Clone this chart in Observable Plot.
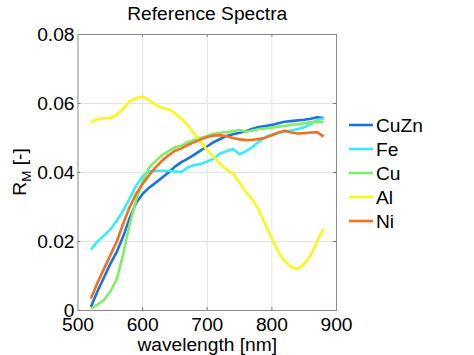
<!DOCTYPE html>
<html>
<head>
<meta charset="utf-8">
<script src="https://cdn.jsdelivr.net/npm/d3@7"></script>
<script src="https://cdn.jsdelivr.net/npm/@observablehq/plot@0.6"></script>
<style>
  html, body { margin: 0; padding: 0; background: #fff; }
  #chart { position: relative; width: 474px; height: 355px; }
</style>
</head>
<body>
<div id="chart"></div>
<script>
const wavelengths = [520,530,540,550,560,570,580,590,600,610,620,630,640,650,660,670,680,690,700,710,720,730,740,750,760,770,780,790,800,810,820,830,840,850,860,870,880];

const seriesNames = ["CuZn", "Fe", "Cu", "Al", "Ni"];
const seriesColors = ["#1a72e0", "#33eefa", "#80ec6a", "#f8f818", "#ee7020"];

const CuZn = [0.0010,0.0055,0.0095,0.0135,0.0170,0.0215,0.0268,0.0312,0.0338,0.0356,0.0370,0.0385,0.0400,0.0417,0.0430,0.0440,0.0452,0.0464,0.0476,0.0488,0.0497,0.0506,0.0511,0.0515,0.0520,0.0527,0.0532,0.0535,0.0538,0.0543,0.0547,0.0549,0.0551,0.0553,0.0556,0.0560,0.0558];
const Fe   = [0.0176,0.0200,0.0217,0.0235,0.0260,0.0290,0.0325,0.0362,0.0390,0.0403,0.0405,0.0405,0.0405,0.0403,0.0402,0.0415,0.0422,0.0425,0.0432,0.0440,0.0455,0.0462,0.0468,0.0453,0.0462,0.0474,0.0490,0.0502,0.0510,0.0514,0.0518,0.0522,0.0526,0.0531,0.0540,0.0552,0.0557];
const Cu   = [0.0005,0.0017,0.0030,0.0055,0.0090,0.0165,0.0250,0.0320,0.0375,0.0415,0.0433,0.0450,0.0462,0.0473,0.0478,0.0488,0.0494,0.0500,0.0506,0.0512,0.0515,0.0517,0.0520,0.0523,0.0518,0.0522,0.0526,0.0528,0.0530,0.0533,0.0535,0.0538,0.0540,0.0543,0.0546,0.0547,0.0546];
const Al   = [0.0545,0.0555,0.0557,0.0558,0.0568,0.0585,0.0607,0.0616,0.0620,0.0610,0.0597,0.0587,0.0584,0.0572,0.0556,0.0537,0.0512,0.0488,0.0465,0.0445,0.0425,0.0408,0.0398,0.0370,0.0343,0.0322,0.0290,0.0250,0.0208,0.0170,0.0143,0.0127,0.0120,0.0135,0.0160,0.0200,0.0237];
const Ni   = [0.0035,0.0080,0.0120,0.0160,0.0200,0.0252,0.0300,0.0338,0.0367,0.0392,0.0415,0.0434,0.0450,0.0463,0.0470,0.0480,0.0488,0.0496,0.0503,0.0507,0.0508,0.0505,0.0500,0.0496,0.0494,0.0495,0.0497,0.0501,0.0508,0.0516,0.0521,0.0516,0.0513,0.0514,0.0516,0.0517,0.0504];

const xTicks = [500,600,700,800,900];
const yTicks = [0,0.02,0.04,0.06,0.08];
const yTickLabels = ["0","0.02","0.04","0.06","0.08"];

const seriesValues = [CuZn, Fe, Cu, Al, Ni];
const rows = [];
seriesNames.forEach((name, i) => {
  wavelengths.forEach((w, j) => rows.push({series: name, wavelength: w, value: seriesValues[i][j]}));
});

const FONT = "'Liberation Sans', Arial, Helvetica, sans-serif";
const FS = 19.2;

const plot = Plot.plot({
  width: 474,
  height: 355,
  marginLeft: 77.5,
  marginRight: 138,
  marginTop: 34,
  marginBottom: 45,
  style: {fontFamily: FONT, fontSize: FS + "px", background: "#fff", color: "#000"},
  x: {domain: [500, 900], label: null},
  y: {domain: [0, 0.08], label: null},
  color: {domain: seriesNames, range: seriesColors},
  marks: [
    Plot.gridX(xTicks.slice(1, -1), {stroke: "#e4e4e4", strokeOpacity: 1, strokeWidth: 1}),
    Plot.gridY(yTicks.slice(1, -1), {stroke: "#e4e4e4", strokeOpacity: 1, strokeWidth: 1}),
    Plot.axisX(xTicks, {tickSize: 0, tickPadding: 6.5, fontSize: FS, tickFormat: d => String(d), label: null}),
    Plot.axisY(yTicks, {tickSize: 0, tickPadding: 3.5, fontSize: FS, tickFormat: (d, i) => yTickLabels[i], label: null}),
    // inward tick marks (MATLAB-style, all four sides)
    Plot.ruleX(xTicks.slice(1, -1), {y1: 0, y2: 0.0008, stroke: "#777"}),
    Plot.ruleX(xTicks.slice(1, -1), {y1: 0.08, y2: 0.0792, stroke: "#777"}),
    Plot.ruleY(yTicks.slice(1, -1), {x1: 500, x2: 504.5, stroke: "#777"}),
    Plot.ruleY(yTicks.slice(1, -1), {x1: 900, x2: 895.5, stroke: "#777"}),
    Plot.frame({stroke: "#8a8a8a", strokeWidth: 1}),
    Plot.line(rows, {x: "wavelength", y: "value", z: "series", stroke: "series", strokeWidth: 2.6, strokeLinejoin: "round", strokeLinecap: "butt"}),
    Plot.text(["Reference Spectra"], {frameAnchor: "top", dy: -15, lineAnchor: "bottom", fontSize: FS, fill: "#000"}),
    Plot.text(["wavelength [nm]"], {frameAnchor: "bottom", dy: 40.5, lineAnchor: "bottom", fontSize: FS, fill: "#000"})
  ]
});

const svg = d3.select(plot);

// y-axis label: R_M [-]
const yl = svg.append("text")
  .attr("transform", "translate(26,172) rotate(-90)")
  .attr("text-anchor", "middle")
  .attr("font-family", FONT)
  .attr("font-size", FS)
  .attr("fill", "#000");
yl.append("tspan").text("R");
yl.append("tspan").attr("font-size", FS * 0.7).attr("dy", 5).text("M");
yl.append("tspan").attr("dy", -5).text(" [-]");

// legend
const lg = svg.append("g").attr("font-family", FONT).attr("font-size", FS).attr("text-anchor", "start");
seriesNames.forEach((name, i) => {
  const y = 125 + i * 24;
  lg.append("line").attr("x1", 349).attr("x2", 373).attr("y1", y).attr("y2", y)
    .attr("stroke", seriesColors[i]).attr("stroke-width", 2.6);
  lg.append("text").attr("x", 376).attr("y", y).attr("dy", "0.35em")
    .attr("text-anchor", "start").attr("fill", "#000").text(name);
});

document.getElementById("chart").appendChild(plot);
</script>
</body>
</html>
